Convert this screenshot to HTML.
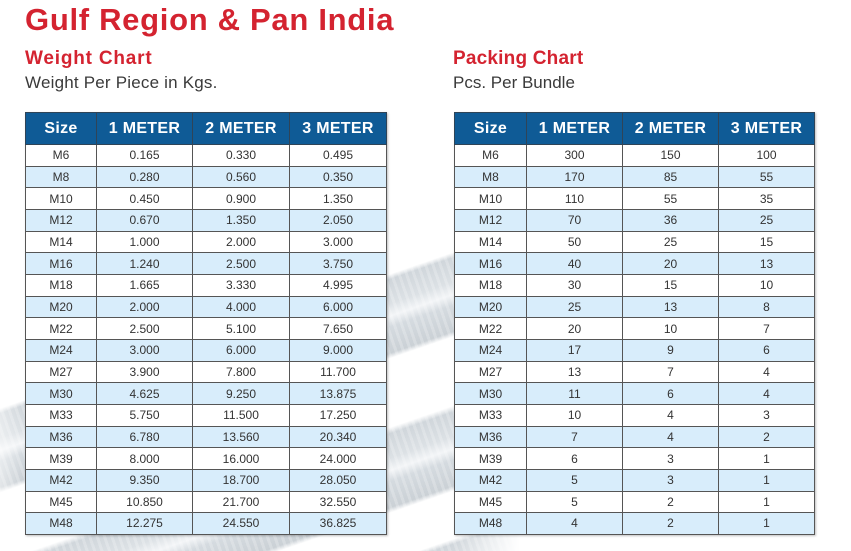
<!DOCTYPE html>
<html>
<head>
<meta charset="utf-8">
<style>
  html,body{margin:0;padding:0;width:851px;height:551px;overflow:hidden;}
  body{background:#fff;position:relative;font-family:"Liberation Sans",sans-serif;}
  .txt{position:absolute;white-space:nowrap;line-height:1;}
  .title{left:25px;top:4px;font-size:31px;font-weight:bold;color:#d42330;letter-spacing:0.7px;}
  .h2{font-size:19px;font-weight:bold;color:#d42330;top:49px;}
  .sub{font-size:17px;color:#3a3a3a;top:73.6px;}
  .rods{position:absolute;left:0;top:0;width:520px;height:551px;z-index:0;
    -webkit-mask-image:linear-gradient(to right, rgba(0,0,0,0.55) 0px, #000 22px, #000 455px, rgba(0,0,0,0) 520px);
    mask-image:linear-gradient(to right, rgba(0,0,0,0.55) 0px, #000 22px, #000 455px, rgba(0,0,0,0) 520px);
    background-image:
      repeating-linear-gradient(71deg, rgba(255,255,255,0) 0px, rgba(255,255,255,0) 4px, rgba(255,255,255,0.22) 4px, rgba(255,255,255,0.22) 7px),
      linear-gradient(161deg,
        rgba(255,255,255,0) 0px,
        rgba(255,255,255,0) 386px,
        #d0d6db 391px, #dce1e5 414px, #f3f5f7 426px, #d5dbe0 436px, #cbd1d6 461px,
        rgba(255,255,255,0) 466px,
        rgba(255,255,255,0) 531px,
        #d0d6db 537px, #dce1e5 560px, #f3f5f7 572px, #d5dbe0 582px, #cbd1d6 607px,
        rgba(255,255,255,0) 612px,
        rgba(255,255,255,0) 657px,
        #d0d6db 662px, #dce1e5 685px, #f3f5f7 697px);
  }
  table.t{position:absolute;top:112px;border-collapse:collapse;table-layout:fixed;z-index:1;box-shadow:1px 1px 2px rgba(0,0,0,0.25);}
  table.t th{background:#0f5b96;color:#fff;height:31px;font-size:16px;font-weight:bold;border:1px solid #2f4457;padding:0;text-align:center;letter-spacing:0.3px;}
  table.t td{height:20.67px;font-size:12px;color:#333;text-align:center;border:1px solid #555;padding:0;background:#fff;}
  table.t tbody tr:nth-child(even) td{background:#d8edfb;}
</style>
</head>
<body>
<div class="rods"></div>

<div class="txt title">Gulf Region &amp; Pan India</div>
<div class="txt h2" style="left:25px;letter-spacing:0.8px;">Weight Chart</div>
<div class="txt sub" style="left:25px;letter-spacing:0.2px;">Weight Per Piece in Kgs.</div>
<div class="txt h2" style="left:453px;letter-spacing:0.2px;">Packing Chart</div>
<div class="txt sub" style="left:453px;">Pcs. Per Bundle</div>

<table class="t" style="left:25px;width:361px;">
  <colgroup><col style="width:71px"><col style="width:96px"><col style="width:97px"><col style="width:97px"></colgroup>
  <thead><tr><th>Size</th><th>1 METER</th><th>2 METER</th><th>3 METER</th></tr></thead>
  <tbody>
    <tr><td>M6</td><td>0.165</td><td>0.330</td><td>0.495</td></tr>
    <tr><td>M8</td><td>0.280</td><td>0.560</td><td>0.350</td></tr>
    <tr><td>M10</td><td>0.450</td><td>0.900</td><td>1.350</td></tr>
    <tr><td>M12</td><td>0.670</td><td>1.350</td><td>2.050</td></tr>
    <tr><td>M14</td><td>1.000</td><td>2.000</td><td>3.000</td></tr>
    <tr><td>M16</td><td>1.240</td><td>2.500</td><td>3.750</td></tr>
    <tr><td>M18</td><td>1.665</td><td>3.330</td><td>4.995</td></tr>
    <tr><td>M20</td><td>2.000</td><td>4.000</td><td>6.000</td></tr>
    <tr><td>M22</td><td>2.500</td><td>5.100</td><td>7.650</td></tr>
    <tr><td>M24</td><td>3.000</td><td>6.000</td><td>9.000</td></tr>
    <tr><td>M27</td><td>3.900</td><td>7.800</td><td>11.700</td></tr>
    <tr><td>M30</td><td>4.625</td><td>9.250</td><td>13.875</td></tr>
    <tr><td>M33</td><td>5.750</td><td>11.500</td><td>17.250</td></tr>
    <tr><td>M36</td><td>6.780</td><td>13.560</td><td>20.340</td></tr>
    <tr><td>M39</td><td>8.000</td><td>16.000</td><td>24.000</td></tr>
    <tr><td>M42</td><td>9.350</td><td>18.700</td><td>28.050</td></tr>
    <tr><td>M45</td><td>10.850</td><td>21.700</td><td>32.550</td></tr>
    <tr><td>M48</td><td>12.275</td><td>24.550</td><td>36.825</td></tr>
  </tbody>
</table>

<table class="t" style="left:454px;width:360px;">
  <colgroup><col style="width:72px"><col style="width:96px"><col style="width:96px"><col style="width:96px"></colgroup>
  <thead><tr><th>Size</th><th>1 METER</th><th>2 METER</th><th>3 METER</th></tr></thead>
  <tbody>
    <tr><td>M6</td><td>300</td><td>150</td><td>100</td></tr>
    <tr><td>M8</td><td>170</td><td>85</td><td>55</td></tr>
    <tr><td>M10</td><td>110</td><td>55</td><td>35</td></tr>
    <tr><td>M12</td><td>70</td><td>36</td><td>25</td></tr>
    <tr><td>M14</td><td>50</td><td>25</td><td>15</td></tr>
    <tr><td>M16</td><td>40</td><td>20</td><td>13</td></tr>
    <tr><td>M18</td><td>30</td><td>15</td><td>10</td></tr>
    <tr><td>M20</td><td>25</td><td>13</td><td>8</td></tr>
    <tr><td>M22</td><td>20</td><td>10</td><td>7</td></tr>
    <tr><td>M24</td><td>17</td><td>9</td><td>6</td></tr>
    <tr><td>M27</td><td>13</td><td>7</td><td>4</td></tr>
    <tr><td>M30</td><td>11</td><td>6</td><td>4</td></tr>
    <tr><td>M33</td><td>10</td><td>4</td><td>3</td></tr>
    <tr><td>M36</td><td>7</td><td>4</td><td>2</td></tr>
    <tr><td>M39</td><td>6</td><td>3</td><td>1</td></tr>
    <tr><td>M42</td><td>5</td><td>3</td><td>1</td></tr>
    <tr><td>M45</td><td>5</td><td>2</td><td>1</td></tr>
    <tr><td>M48</td><td>4</td><td>2</td><td>1</td></tr>
  </tbody>
</table>
</body>
</html>
